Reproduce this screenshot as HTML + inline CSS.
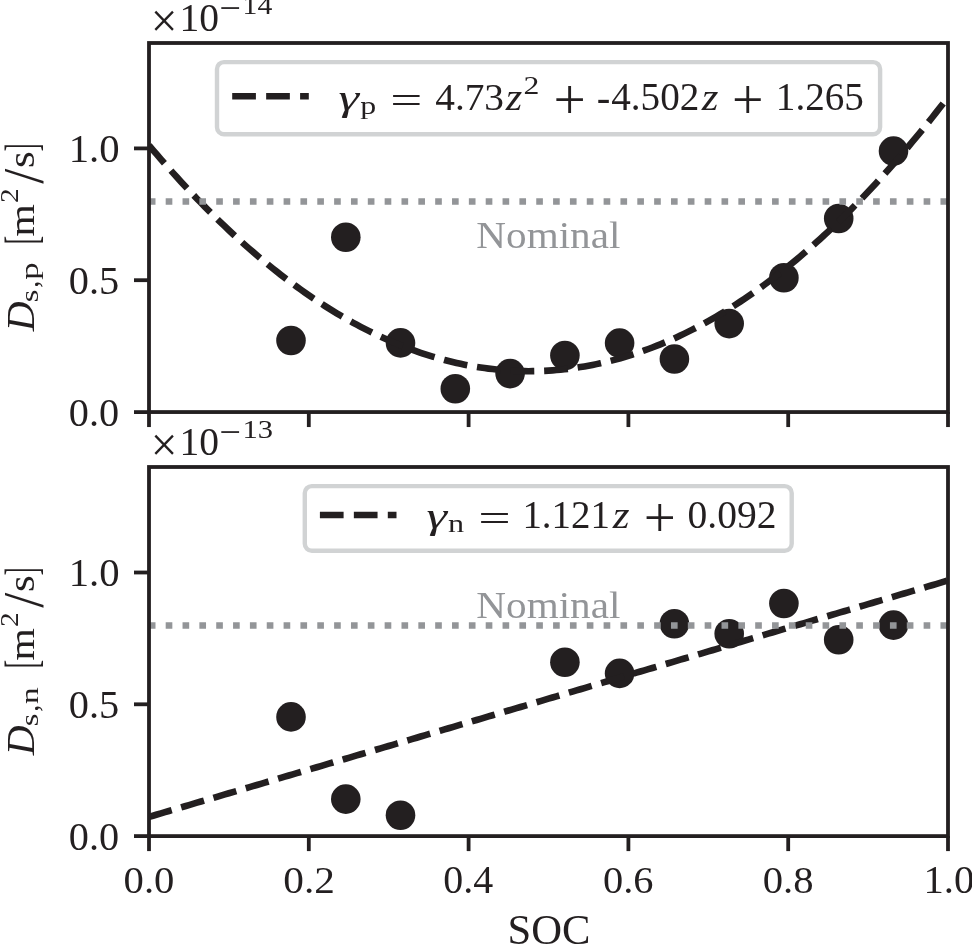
<!DOCTYPE html>
<html><head><meta charset="utf-8"><title>Diffusivity vs SOC</title>
<style>html,body{margin:0;padding:0;background:#fff}svg{display:block}</style></head>
<body>
<svg width="972" height="944" viewBox="0 0 972 944" font-family="'Liberation Serif', serif">
<defs><clipPath id="c0"><rect x="149" y="43" width="799" height="369"/></clipPath><clipPath id="c1"><rect x="149" y="467" width="799" height="369"/></clipPath></defs>
<rect width="972" height="944" fill="#fff"/>
<g clip-path="url(#c0)">
<circle cx="291.0" cy="340.5" r="14.8" fill="#231f20"/>
<circle cx="345.8" cy="237.2" r="14.8" fill="#231f20"/>
<circle cx="400.5" cy="342.9" r="14.8" fill="#231f20"/>
<circle cx="455.3" cy="388.8" r="14.8" fill="#231f20"/>
<circle cx="510.1" cy="373.6" r="14.8" fill="#231f20"/>
<circle cx="564.9" cy="355.5" r="14.8" fill="#231f20"/>
<circle cx="619.6" cy="343.1" r="14.8" fill="#231f20"/>
<circle cx="674.4" cy="359.0" r="14.8" fill="#231f20"/>
<circle cx="729.2" cy="323.6" r="14.8" fill="#231f20"/>
<circle cx="783.9" cy="277.7" r="14.8" fill="#231f20"/>
<circle cx="838.7" cy="218.5" r="14.8" fill="#231f20"/>
<circle cx="893.5" cy="151.1" r="14.8" fill="#231f20"/>
<path d="M149.00 145.29 L153.00 150.01 L156.99 154.68 L160.99 159.30 L164.98 163.88 L168.97 168.40 L172.97 172.87 L176.97 177.29 L180.96 181.67 L184.95 185.99 L188.95 190.26 L192.94 194.49 L196.94 198.66 L200.94 202.78 L204.93 206.86 L208.93 210.88 L212.92 214.85 L216.92 218.78 L220.91 222.65 L224.91 226.48 L228.90 230.25 L232.89 233.97 L236.89 237.65 L240.88 241.27 L244.88 244.85 L248.88 248.37 L252.87 251.85 L256.87 255.27 L260.86 258.65 L264.86 261.98 L268.85 265.25 L272.85 268.48 L276.84 271.65 L280.84 274.78 L284.83 277.86 L288.82 280.88 L292.82 283.86 L296.81 286.78 L300.81 289.66 L304.81 292.49 L308.80 295.26 L312.79 297.99 L316.79 300.67 L320.78 303.30 L324.78 305.87 L328.77 308.40 L332.77 310.88 L336.76 313.31 L340.76 315.68 L344.75 318.01 L348.75 320.29 L352.75 322.52 L356.74 324.70 L360.74 326.83 L364.73 328.90 L368.73 330.93 L372.72 332.91 L376.71 334.84 L380.71 336.72 L384.70 338.55 L388.70 340.33 L392.69 342.06 L396.69 343.74 L400.69 345.37 L404.68 346.95 L408.68 348.48 L412.67 349.96 L416.67 351.39 L420.66 352.77 L424.65 354.10 L428.65 355.38 L432.64 356.61 L436.64 357.79 L440.63 358.92 L444.63 360.01 L448.62 361.04 L452.62 362.02 L456.62 362.95 L460.61 363.83 L464.61 364.66 L468.60 365.45 L472.60 366.18 L476.59 366.86 L480.58 367.49 L484.58 368.07 L488.57 368.61 L492.57 369.09 L496.56 369.52 L500.56 369.91 L504.56 370.24 L508.55 370.52 L512.55 370.76 L516.54 370.94 L520.54 371.07 L524.53 371.16 L528.52 371.19 L532.52 371.17 L536.51 371.11 L540.51 370.99 L544.50 370.83 L548.50 370.61 L552.50 370.35 L556.49 370.03 L560.49 369.67 L564.48 369.25 L568.48 368.79 L572.47 368.27 L576.47 367.71 L580.46 367.09 L584.46 366.43 L588.45 365.71 L592.45 364.95 L596.44 364.14 L600.43 363.27 L604.43 362.36 L608.42 361.40 L612.42 360.38 L616.41 359.32 L620.41 358.21 L624.40 357.04 L628.40 355.83 L632.39 354.57 L636.39 353.25 L640.38 351.89 L644.38 350.48 L648.38 349.02 L652.37 347.50 L656.37 345.94 L660.36 344.33 L664.36 342.67 L668.35 340.96 L672.35 339.20 L676.34 337.38 L680.34 335.52 L684.33 333.61 L688.33 331.65 L692.32 329.64 L696.32 327.58 L700.31 325.47 L704.30 323.31 L708.30 321.10 L712.29 318.84 L716.29 316.53 L720.28 314.17 L724.28 311.76 L728.27 309.30 L732.27 306.79 L736.26 304.23 L740.26 301.62 L744.25 298.96 L748.25 296.25 L752.25 293.49 L756.24 290.68 L760.24 287.82 L764.23 284.92 L768.23 281.96 L772.22 278.95 L776.22 275.89 L780.21 272.78 L784.21 269.62 L788.20 266.42 L792.20 263.16 L796.19 259.85 L800.18 256.49 L804.18 253.09 L808.17 249.63 L812.17 246.12 L816.16 242.56 L820.16 238.96 L824.15 235.30 L828.15 231.59 L832.14 227.84 L836.14 224.03 L840.13 220.18 L844.13 216.27 L848.12 212.31 L852.12 208.31 L856.12 204.25 L860.11 200.15 L864.11 195.99 L868.10 191.79 L872.10 187.53 L876.09 183.23 L880.09 178.87 L884.08 174.47 L888.08 170.01 L892.07 165.51 L896.07 160.95 L900.06 156.35 L904.05 151.69 L908.05 146.99 L912.04 142.24 L916.04 137.43 L920.03 132.58 L924.03 127.67 L928.02 122.72 L932.02 117.72 L936.01 112.66 L940.01 107.56 L944.00 102.41 L948.00 97.21" fill="none" stroke="#231f20" stroke-width="6.6" stroke-dasharray="23.82 9.87" stroke-dashoffset="0.15"/>
<line x1="149.0" y1="201.42" x2="948.0" y2="201.42" stroke="#939598" stroke-width="6.5" stroke-dasharray="6.65 10.193" stroke-dashoffset="0.15"/>
</g>
<rect x="149.0" y="43.0" width="799.0" height="369.05" fill="none" stroke="#231f20" stroke-width="3.8"/>
<line x1="149.0" y1="412.05" x2="149.0" y2="427.05" stroke="#231f20" stroke-width="3.8"/>
<line x1="308.8" y1="412.05" x2="308.8" y2="427.05" stroke="#231f20" stroke-width="3.8"/>
<line x1="468.6" y1="412.05" x2="468.6" y2="427.05" stroke="#231f20" stroke-width="3.8"/>
<line x1="628.4" y1="412.05" x2="628.4" y2="427.05" stroke="#231f20" stroke-width="3.8"/>
<line x1="788.2" y1="412.05" x2="788.2" y2="427.05" stroke="#231f20" stroke-width="3.8"/>
<line x1="948.0" y1="412.05" x2="948.0" y2="427.05" stroke="#231f20" stroke-width="3.8"/>
<line x1="149.0" y1="412.1" x2="134.0" y2="412.1" stroke="#231f20" stroke-width="3.8"/>
<line x1="149.0" y1="280.2" x2="134.0" y2="280.2" stroke="#231f20" stroke-width="3.8"/>
<line x1="149.0" y1="148.4" x2="134.0" y2="148.4" stroke="#231f20" stroke-width="3.8"/>
<g clip-path="url(#c1)">
<circle cx="291.0" cy="716.9" r="14.8" fill="#231f20"/>
<circle cx="345.8" cy="799.1" r="14.8" fill="#231f20"/>
<circle cx="400.5" cy="815.3" r="14.8" fill="#231f20"/>
<circle cx="564.9" cy="662.2" r="14.8" fill="#231f20"/>
<circle cx="619.6" cy="673.4" r="14.8" fill="#231f20"/>
<circle cx="674.4" cy="623.8" r="14.8" fill="#231f20"/>
<circle cx="729.2" cy="633.7" r="14.8" fill="#231f20"/>
<circle cx="783.9" cy="603.5" r="14.8" fill="#231f20"/>
<circle cx="838.7" cy="639.8" r="14.8" fill="#231f20"/>
<circle cx="893.5" cy="625.1" r="14.8" fill="#231f20"/>
<path d="M149.00 816.90 L153.00 815.72 L156.99 814.53 L160.99 813.35 L164.98 812.17 L168.97 810.99 L172.97 809.81 L176.97 808.62 L180.96 807.44 L184.95 806.26 L188.95 805.08 L192.94 803.90 L196.94 802.71 L200.94 801.53 L204.93 800.35 L208.93 799.17 L212.92 797.99 L216.92 796.81 L220.91 795.62 L224.91 794.44 L228.90 793.26 L232.89 792.08 L236.89 790.90 L240.88 789.71 L244.88 788.53 L248.88 787.35 L252.87 786.17 L256.87 784.99 L260.86 783.80 L264.86 782.62 L268.85 781.44 L272.85 780.26 L276.84 779.08 L280.84 777.89 L284.83 776.71 L288.82 775.53 L292.82 774.35 L296.81 773.17 L300.81 771.98 L304.81 770.80 L308.80 769.62 L312.79 768.44 L316.79 767.26 L320.78 766.07 L324.78 764.89 L328.77 763.71 L332.77 762.53 L336.76 761.35 L340.76 760.16 L344.75 758.98 L348.75 757.80 L352.75 756.62 L356.74 755.44 L360.74 754.25 L364.73 753.07 L368.73 751.89 L372.72 750.71 L376.71 749.53 L380.71 748.34 L384.70 747.16 L388.70 745.98 L392.69 744.80 L396.69 743.62 L400.69 742.43 L404.68 741.25 L408.68 740.07 L412.67 738.89 L416.67 737.71 L420.66 736.52 L424.65 735.34 L428.65 734.16 L432.64 732.98 L436.64 731.80 L440.63 730.61 L444.63 729.43 L448.62 728.25 L452.62 727.07 L456.62 725.89 L460.61 724.70 L464.61 723.52 L468.60 722.34 L472.60 721.16 L476.59 719.98 L480.58 718.79 L484.58 717.61 L488.57 716.43 L492.57 715.25 L496.56 714.07 L500.56 712.88 L504.56 711.70 L508.55 710.52 L512.55 709.34 L516.54 708.16 L520.54 706.97 L524.53 705.79 L528.52 704.61 L532.52 703.43 L536.51 702.25 L540.51 701.06 L544.50 699.88 L548.50 698.70 L552.50 697.52 L556.49 696.34 L560.49 695.15 L564.48 693.97 L568.48 692.79 L572.47 691.61 L576.47 690.43 L580.46 689.24 L584.46 688.06 L588.45 686.88 L592.45 685.70 L596.44 684.52 L600.43 683.33 L604.43 682.15 L608.42 680.97 L612.42 679.79 L616.41 678.61 L620.41 677.42 L624.40 676.24 L628.40 675.06 L632.39 673.88 L636.39 672.70 L640.38 671.51 L644.38 670.33 L648.38 669.15 L652.37 667.97 L656.37 666.79 L660.36 665.60 L664.36 664.42 L668.35 663.24 L672.35 662.06 L676.34 660.88 L680.34 659.70 L684.33 658.51 L688.33 657.33 L692.32 656.15 L696.32 654.97 L700.31 653.79 L704.30 652.60 L708.30 651.42 L712.29 650.24 L716.29 649.06 L720.28 647.88 L724.28 646.69 L728.27 645.51 L732.27 644.33 L736.26 643.15 L740.26 641.97 L744.25 640.78 L748.25 639.60 L752.25 638.42 L756.24 637.24 L760.24 636.06 L764.23 634.87 L768.23 633.69 L772.22 632.51 L776.22 631.33 L780.21 630.15 L784.21 628.96 L788.20 627.78 L792.20 626.60 L796.19 625.42 L800.18 624.24 L804.18 623.05 L808.17 621.87 L812.17 620.69 L816.16 619.51 L820.16 618.33 L824.15 617.14 L828.15 615.96 L832.14 614.78 L836.14 613.60 L840.13 612.42 L844.13 611.23 L848.12 610.05 L852.12 608.87 L856.12 607.69 L860.11 606.51 L864.11 605.32 L868.10 604.14 L872.10 602.96 L876.09 601.78 L880.09 600.60 L884.08 599.41 L888.08 598.23 L892.07 597.05 L896.07 595.87 L900.06 594.69 L904.05 593.50 L908.05 592.32 L912.04 591.14 L916.04 589.96 L920.03 588.78 L924.03 587.59 L928.02 586.41 L932.02 585.23 L936.01 584.05 L940.01 582.87 L944.00 581.68 L948.00 580.50" fill="none" stroke="#231f20" stroke-width="6.6" stroke-dasharray="23.82 9.87" stroke-dashoffset="0.15"/>
<line x1="149.0" y1="625.47" x2="948.0" y2="625.47" stroke="#939598" stroke-width="6.5" stroke-dasharray="6.65 10.193" stroke-dashoffset="0.15"/>
</g>
<rect x="149.0" y="467.0" width="799.0" height="369.1" fill="none" stroke="#231f20" stroke-width="3.8"/>
<line x1="149.0" y1="836.1" x2="149.0" y2="851.1" stroke="#231f20" stroke-width="3.8"/>
<line x1="308.8" y1="836.1" x2="308.8" y2="851.1" stroke="#231f20" stroke-width="3.8"/>
<line x1="468.6" y1="836.1" x2="468.6" y2="851.1" stroke="#231f20" stroke-width="3.8"/>
<line x1="628.4" y1="836.1" x2="628.4" y2="851.1" stroke="#231f20" stroke-width="3.8"/>
<line x1="788.2" y1="836.1" x2="788.2" y2="851.1" stroke="#231f20" stroke-width="3.8"/>
<line x1="948.0" y1="836.1" x2="948.0" y2="851.1" stroke="#231f20" stroke-width="3.8"/>
<line x1="149.0" y1="836.1" x2="134.0" y2="836.1" stroke="#231f20" stroke-width="3.8"/>
<line x1="149.0" y1="704.3" x2="134.0" y2="704.3" stroke="#231f20" stroke-width="3.8"/>
<line x1="149.0" y1="572.5" x2="134.0" y2="572.5" stroke="#231f20" stroke-width="3.8"/>
<rect x="217" y="62.1" width="663.1" height="72.20000000000002" rx="7" ry="7" fill="#fff" fill-opacity="0.8" stroke="#d1d3d4" stroke-width="4.4"/>
<line x1="232.2" y1="96.3" x2="308.79999999999995" y2="96.3" stroke="#231f20" stroke-width="6.6" stroke-dasharray="23.7 10.25"/>
<rect x="304.8" y="486.1" width="486.90000000000003" height="64.69999999999993" rx="7" ry="7" fill="#fff" fill-opacity="0.8" stroke="#d1d3d4" stroke-width="4.4"/>
<line x1="319.9" y1="515.0" x2="396.5" y2="515.0" stroke="#231f20" stroke-width="6.6" stroke-dasharray="23.7 10.25"/>
<text transform="translate(68.74,162.25) scale(1.0439,1)" font-size="39" fill="#231f20">1.0</text>
<text transform="translate(68.79,294.05) scale(1.0344,1)" font-size="39" fill="#231f20">0.5</text>
<text transform="translate(68.79,425.85) scale(1.0322,1)" font-size="39" fill="#231f20">0.0</text>
<text transform="translate(68.74,586.30) scale(1.0439,1)" font-size="39" fill="#231f20">1.0</text>
<text transform="translate(68.79,718.10) scale(1.0344,1)" font-size="39" fill="#231f20">0.5</text>
<text transform="translate(68.79,849.90) scale(1.0322,1)" font-size="39" fill="#231f20">0.0</text>
<text transform="translate(123.57,893.30) scale(1.0431,1)" font-size="39" fill="#231f20">0.0</text>
<text transform="translate(283.35,893.30) scale(1.0589,1)" font-size="39" fill="#231f20">0.2</text>
<text transform="translate(443.20,893.30) scale(1.0235,1)" font-size="39" fill="#231f20">0.4</text>
<text transform="translate(602.98,893.30) scale(1.0365,1)" font-size="39" fill="#231f20">0.6</text>
<text transform="translate(762.77,893.30) scale(1.0431,1)" font-size="39" fill="#231f20">0.8</text>
<text transform="translate(923.44,893.30) scale(1.0439,1)" font-size="39" fill="#231f20">1.0</text>
<text transform="translate(150.71,36.70) scale(0.9949,1)" font-size="47.65" fill="#231f20">×</text>
<text transform="translate(179.44,30.50) scale(1.0139,1)" font-size="39" fill="#231f20">10</text>
<text transform="translate(219.19,20.07) scale(1.0633,1)" font-size="36.0" fill="#231f20">−</text>
<text transform="translate(242.60,14.40) scale(1.1576,1)" font-size="25.7" fill="#231f20">14</text>
<text transform="translate(150.71,460.70) scale(0.9949,1)" font-size="47.65" fill="#231f20">×</text>
<text transform="translate(179.44,454.50) scale(1.0139,1)" font-size="39" fill="#231f20">10</text>
<text transform="translate(219.19,444.07) scale(1.0633,1)" font-size="36.0" fill="#231f20">−</text>
<text transform="translate(242.52,438.40) scale(1.1907,1)" font-size="25.7" fill="#231f20">13</text>
<text transform="translate(476.37,248.00) scale(1.0831,1)" font-size="38" fill="#939598">Nominal</text>
<text transform="translate(476.37,617.70) scale(1.0831,1)" font-size="38" fill="#939598">Nominal</text>
<text transform="translate(507.52,944.00) scale(1.0151,1)" font-size="42" fill="#231f20">SOC</text>
<text transform="translate(338.39,109.78) scale(1.4530,1)" font-size="35.84" font-style="italic" fill="#231f20">γ</text>
<text transform="translate(360.22,113.80) scale(1.3041,1)" font-size="24.47" fill="#231f20">p</text>
<text transform="translate(390.25,113.77) scale(1.3968,1)" font-size="40.8" fill="#231f20">=</text>
<text transform="translate(435.21,110.00) scale(1.0090,1)" font-size="39" fill="#231f20">4.73</text>
<text transform="translate(505.82,110.30) scale(1.1390,1)" font-size="37.17" font-style="italic" fill="#231f20">z</text>
<text transform="translate(523.47,93.80) scale(1.2594,1)" font-size="25.21" fill="#231f20">2</text>
<text transform="translate(553.44,119.30) scale(1.0038,1)" font-size="56.99" fill="#231f20">+</text>
<text transform="translate(596.67,111.46) scale(0.9864,1)" font-size="41.33" fill="#231f20">-</text>
<text transform="translate(611.22,110.00) scale(1.0044,1)" font-size="39" fill="#231f20">4.502</text>
<text transform="translate(701.63,110.30) scale(1.1530,1)" font-size="37.17" font-style="italic" fill="#231f20">z</text>
<text transform="translate(732.10,119.30) scale(0.9811,1)" font-size="56.99" fill="#231f20">+</text>
<text transform="translate(775.87,110.00) scale(1.0039,1)" font-size="39" fill="#231f20">1.265</text>
<text transform="translate(426.49,527.78) scale(1.4530,1)" font-size="35.84" font-style="italic" fill="#231f20">γ</text>
<text transform="translate(447.88,531.80) scale(1.3166,1)" font-size="24.47" fill="#231f20">n</text>
<text transform="translate(478.22,531.67) scale(1.4126,1)" font-size="40.8" fill="#231f20">=</text>
<text transform="translate(522.39,527.90) scale(0.9988,1)" font-size="39" fill="#231f20">1.121</text>
<text transform="translate(612.83,528.20) scale(1.1600,1)" font-size="37.17" font-style="italic" fill="#231f20">z</text>
<text transform="translate(643.66,537.20) scale(0.9962,1)" font-size="56.99" fill="#231f20">+</text>
<text transform="translate(687.52,527.90) scale(1.0138,1)" font-size="39" fill="#231f20">0.092</text>
<text transform="rotate(-90) translate(-331.19,33.80) scale(1.0237,1)" font-size="40.3" font-style="italic" fill="#231f20">D</text>
<text transform="rotate(-90) translate(-302.19,38.04) scale(1.2412,1)" font-size="26.04" fill="#231f20">s</text>
<text transform="rotate(-90) translate(-287.65,38.45) scale(0.9743,1)" font-size="28.74" fill="#231f20">,</text>
<text transform="rotate(-90) translate(-279.72,37.64) scale(1.3977,1)" font-size="24.76" fill="#231f20">p</text>
<text transform="rotate(-90) translate(-244.59,37.14) scale(0.5716,1)" font-size="46.39" fill="#231f20">[</text>
<text transform="rotate(-90) translate(-236.43,33.90) scale(1.1783,1)" font-size="35.32" fill="#231f20">m</text>
<text transform="rotate(-90) translate(-203.12,17.50) scale(1.1672,1)" font-size="25.06" fill="#231f20">2</text>
<text transform="rotate(-90) translate(-183.70,42.83) scale(0.9470,1)" font-size="57.46" fill="#231f20">/</text>
<text transform="rotate(-90) translate(-167.92,34.02) scale(1.1187,1)" font-size="38.33" fill="#231f20">s</text>
<text transform="rotate(-90) translate(-151.56,37.14) scale(0.5269,1)" font-size="46.39" fill="#231f20">]</text>
<text transform="rotate(-90) translate(-755.19,33.80) scale(1.0237,1)" font-size="40.3" font-style="italic" fill="#231f20">D</text>
<text transform="rotate(-90) translate(-726.19,38.04) scale(1.2412,1)" font-size="26.04" fill="#231f20">s</text>
<text transform="rotate(-90) translate(-711.65,38.45) scale(0.9743,1)" font-size="28.74" fill="#231f20">,</text>
<text transform="rotate(-90) translate(-703.95,38.00) scale(1.3042,1)" font-size="25.53" fill="#231f20">n</text>
<text transform="rotate(-90) translate(-668.59,37.14) scale(0.5716,1)" font-size="46.39" fill="#231f20">[</text>
<text transform="rotate(-90) translate(-660.43,33.90) scale(1.1783,1)" font-size="35.32" fill="#231f20">m</text>
<text transform="rotate(-90) translate(-627.12,17.50) scale(1.1672,1)" font-size="25.06" fill="#231f20">2</text>
<text transform="rotate(-90) translate(-607.70,42.83) scale(0.9470,1)" font-size="57.46" fill="#231f20">/</text>
<text transform="rotate(-90) translate(-591.92,34.02) scale(1.1187,1)" font-size="38.33" fill="#231f20">s</text>
<text transform="rotate(-90) translate(-575.56,37.14) scale(0.5269,1)" font-size="46.39" fill="#231f20">]</text>
</svg>
</body></html>
